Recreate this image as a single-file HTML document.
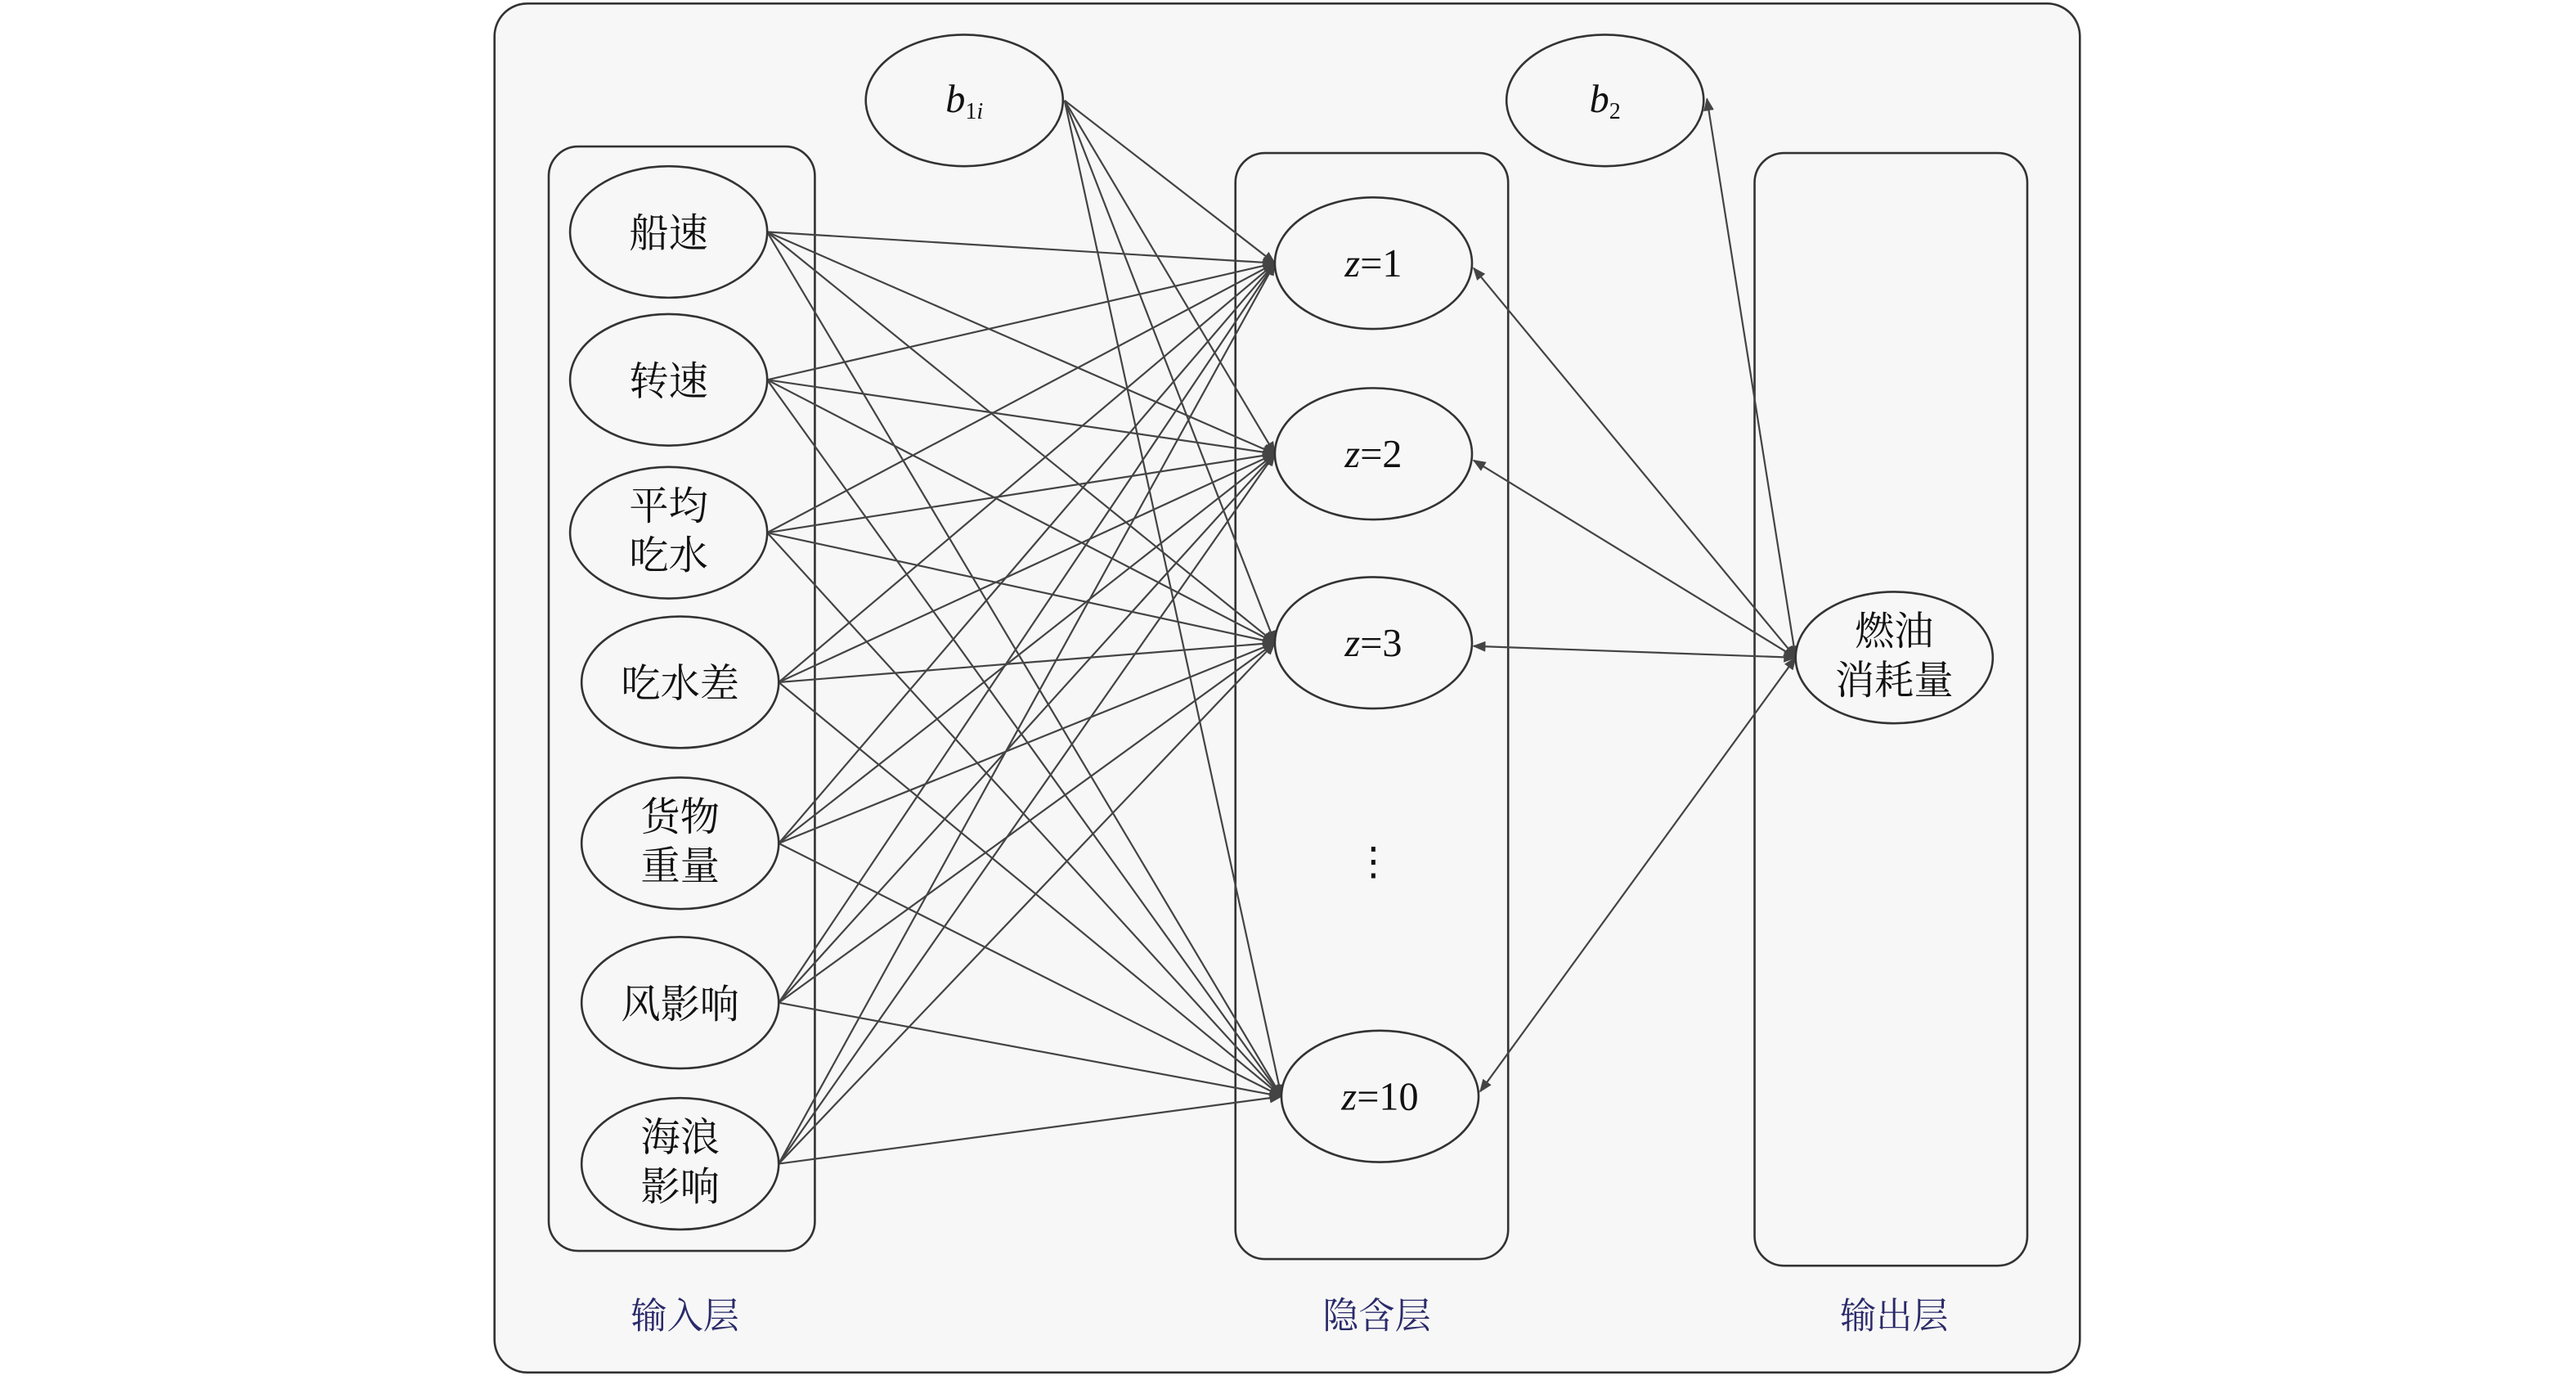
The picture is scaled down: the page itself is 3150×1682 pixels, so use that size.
<!DOCTYPE html>
<html><head><meta charset="utf-8"><style>
html,body{margin:0;padding:0;background:#fff;}
svg{display:block;}
text{font-family:"Liberation Serif","Noto Serif CJK SC",serif;fill:#111;}
</style></head><body>
<svg width="3150" height="1682" viewBox="0 0 1568 837" xmlns="http://www.w3.org/2000/svg">
<defs>
<marker id="a" viewBox="0 0 10 10" refX="9" refY="5" markerWidth="8" markerHeight="8" orient="auto-start-reverse" markerUnits="userSpaceOnUse"><path d="M0,1 L10,5 L0,9 Z" fill="#444"/></marker>
</defs>
<rect x="301" y="2" width="965" height="833" rx="20" fill="#f7f7f7" stroke="#333" stroke-width="1.3"/>
<rect x="334" y="89" width="162" height="672" rx="18" fill="none" stroke="#333" stroke-width="1.3"/>
<rect x="752" y="93" width="166" height="673" rx="18" fill="none" stroke="#333" stroke-width="1.3"/>
<rect x="1068" y="93" width="166" height="677" rx="18" fill="none" stroke="#333" stroke-width="1.3"/>
<g stroke="#444" stroke-width="1.1" fill="none" marker-end="url(#a)">
<line x1="467" y1="141" x2="776" y2="160"/><line x1="467" y1="141" x2="776" y2="276"/><line x1="467" y1="141" x2="776" y2="391"/><line x1="467" y1="141" x2="780" y2="667"/>
<line x1="467" y1="231" x2="776" y2="160"/><line x1="467" y1="231" x2="776" y2="276"/><line x1="467" y1="231" x2="776" y2="391"/><line x1="467" y1="231" x2="780" y2="667"/>
<line x1="467" y1="324" x2="776" y2="160"/><line x1="467" y1="324" x2="776" y2="276"/><line x1="467" y1="324" x2="776" y2="391"/><line x1="467" y1="324" x2="780" y2="667"/>
<line x1="474" y1="415" x2="776" y2="160"/><line x1="474" y1="415" x2="776" y2="276"/><line x1="474" y1="415" x2="776" y2="391"/><line x1="474" y1="415" x2="780" y2="667"/>
<line x1="474" y1="513" x2="776" y2="160"/><line x1="474" y1="513" x2="776" y2="276"/><line x1="474" y1="513" x2="776" y2="391"/><line x1="474" y1="513" x2="780" y2="667"/>
<line x1="474" y1="610" x2="776" y2="160"/><line x1="474" y1="610" x2="776" y2="276"/><line x1="474" y1="610" x2="776" y2="391"/><line x1="474" y1="610" x2="780" y2="667"/>
<line x1="474" y1="708" x2="776" y2="160"/><line x1="474" y1="708" x2="776" y2="276"/><line x1="474" y1="708" x2="776" y2="391"/><line x1="474" y1="708" x2="780" y2="667"/>
<line x1="648" y1="61" x2="776" y2="160"/><line x1="648" y1="61" x2="776" y2="276"/><line x1="648" y1="61" x2="776" y2="391"/><line x1="648" y1="61" x2="780" y2="667"/>
</g>
<g stroke="#444" stroke-width="1.1" fill="none" marker-end="url(#a)" marker-start="url(#a)">
<line x1="1093" y1="400" x2="897" y2="163"/>
<line x1="1093" y1="400" x2="897" y2="280"/>
<line x1="1093" y1="400" x2="897" y2="393"/>
<line x1="1093" y1="400" x2="901" y2="664"/>
<line x1="1093" y1="400" x2="1039" y2="60"/>
</g>
<g fill="#f7f7f7" stroke="#333" stroke-width="1.3">
<ellipse cx="407" cy="141" rx="60" ry="40"/><ellipse cx="407" cy="231" rx="60" ry="40"/><ellipse cx="407" cy="324" rx="60" ry="40"/>
<ellipse cx="414" cy="415" rx="60" ry="40"/><ellipse cx="414" cy="513" rx="60" ry="40"/><ellipse cx="414" cy="610" rx="60" ry="40"/><ellipse cx="414" cy="708" rx="60" ry="40"/>
<ellipse cx="587" cy="61" rx="60" ry="40"/><ellipse cx="977" cy="61" rx="60" ry="40"/>
<ellipse cx="836" cy="160" rx="60" ry="40"/><ellipse cx="836" cy="276" rx="60" ry="40"/><ellipse cx="836" cy="391" rx="60" ry="40"/><ellipse cx="840" cy="667" rx="60" ry="40"/>
<ellipse cx="1153" cy="400" rx="60" ry="40"/>
</g>
<g font-size="24" text-anchor="middle">
<text x="407" y="150">船速</text><text x="407" y="240">转速</text>
<text x="407" y="316">平均</text><text x="407" y="346">吃水</text>
<text x="414" y="424">吃水差</text>
<text x="414" y="505">货物</text><text x="414" y="535">重量</text>
<text x="414" y="619">风影响</text>
<text x="414" y="700">海浪</text><text x="414" y="730">影响</text>
<text x="1153" y="392">燃油</text><text x="1153" y="422">消耗量</text>
<text x="836" y="168"><tspan font-style="italic">z</tspan>=1</text>
<text x="836" y="284"><tspan font-style="italic">z</tspan>=2</text>
<text x="836" y="399"><tspan font-style="italic">z</tspan>=3</text>
<text x="840" y="675"><tspan font-style="italic">z</tspan>=10</text>
<text x="836" y="532">⋮</text>
<text x="587" y="68"><tspan font-style="italic">b</tspan><tspan font-size="14" dy="4">1<tspan font-style="italic">i</tspan></tspan></text>
<text x="977" y="68"><tspan font-style="italic">b</tspan><tspan font-size="14" dy="4">2</tspan></text>
</g>
<g font-size="22" text-anchor="middle" style="fill:#2a2a6a">
<text x="417" y="808" style="fill:#2a2a6a">输入层</text>
<text x="838" y="808" style="fill:#2a2a6a">隐含层</text>
<text x="1153" y="808" style="fill:#2a2a6a">输出层</text>
</g>
</svg>
</body></html>
